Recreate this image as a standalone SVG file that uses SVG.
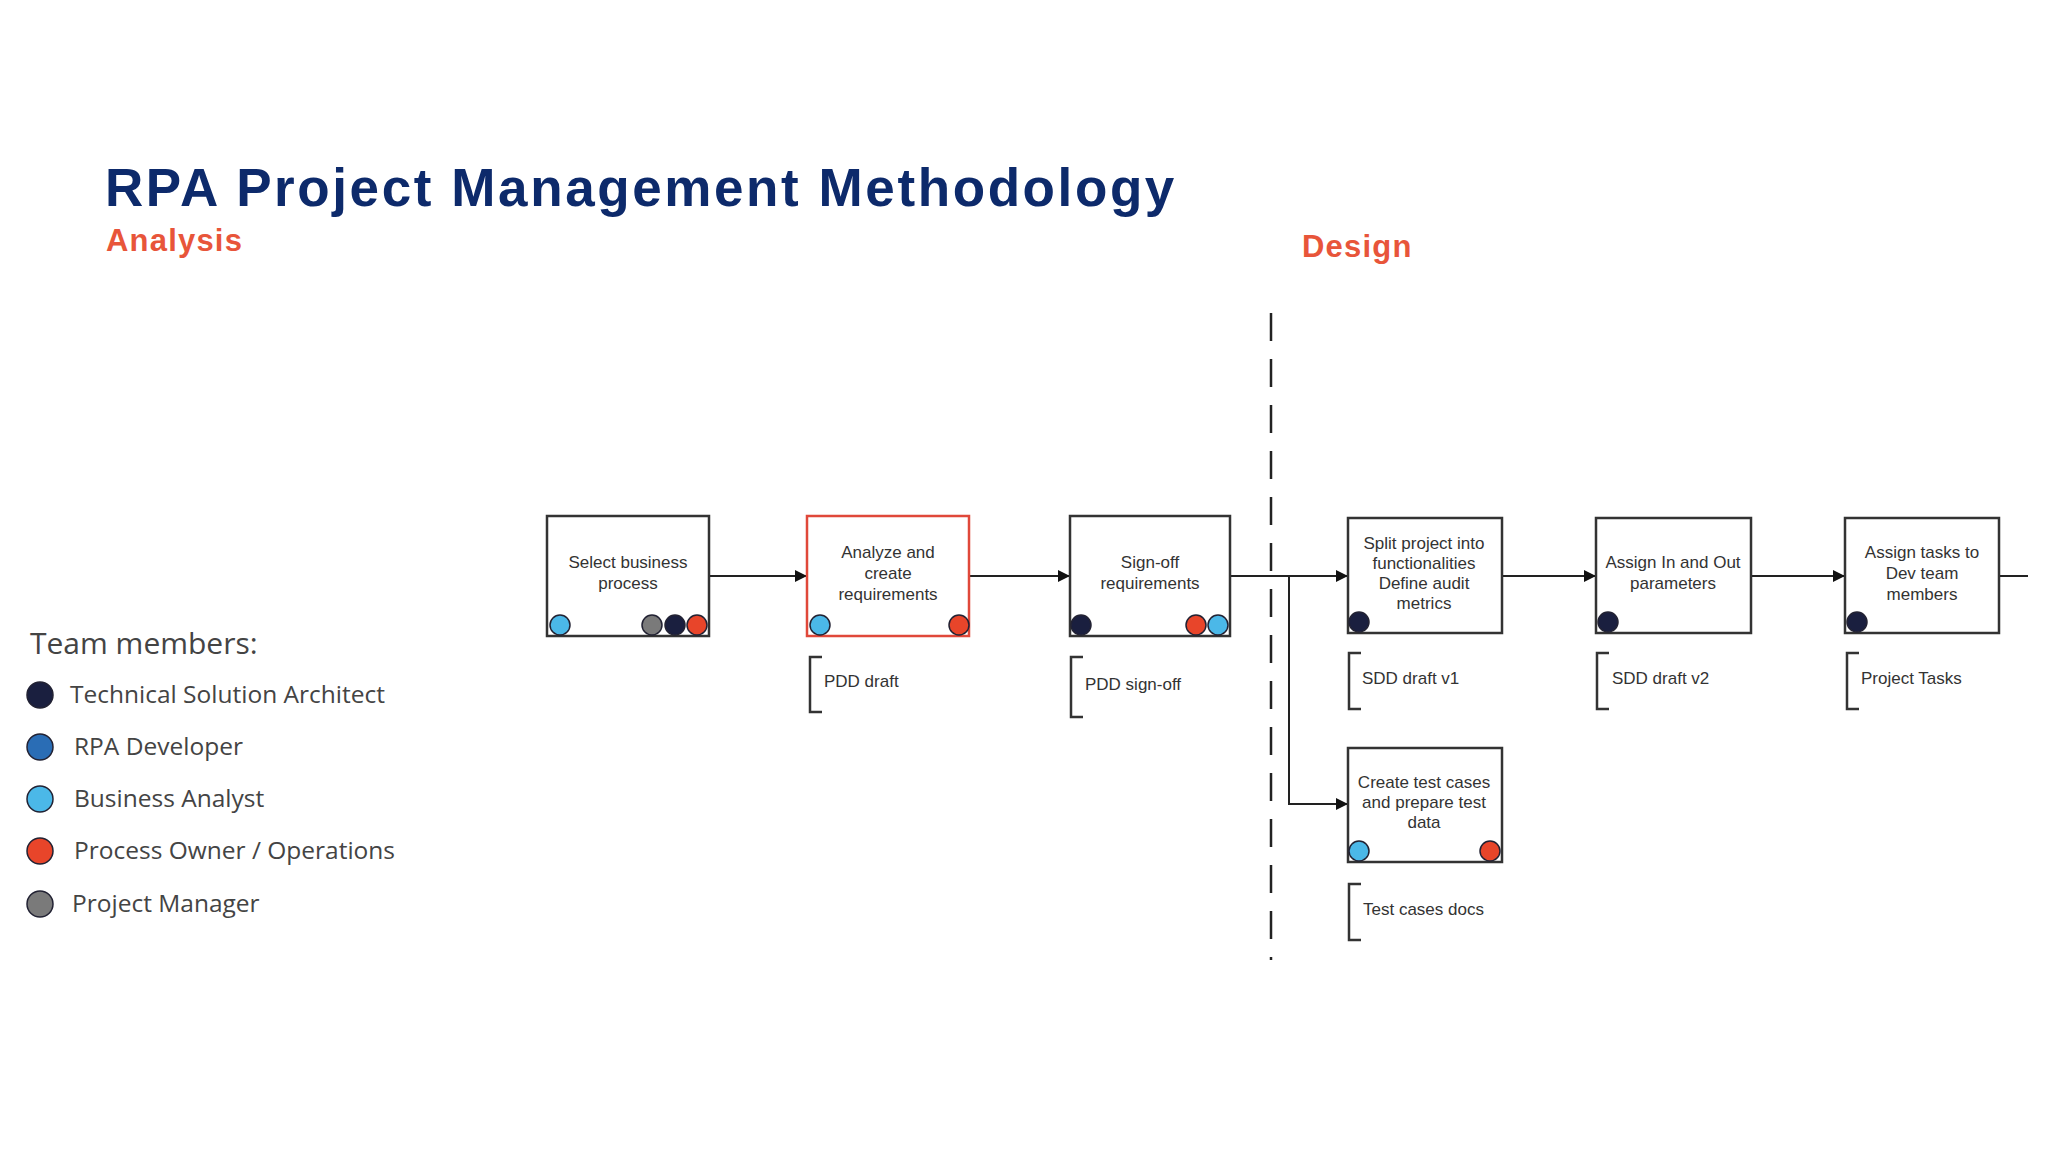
<svg xmlns="http://www.w3.org/2000/svg" width="2048" height="1152" viewBox="0 0 2048 1152">
<defs>
<marker id="ah" viewBox="0 0 10 10" refX="10" refY="5" markerWidth="14" markerHeight="12" markerUnits="userSpaceOnUse" orient="auto"><path d="M0,0 L10,5 L0,10 z" fill="#111"/></marker>
<style>
.box{fill:#fff;stroke:#333;stroke-width:2.5}
.red{stroke:#e0483a}
.bt{font-family:"Liberation Sans",Arial,sans-serif;font-size:17px;fill:#333;text-anchor:middle}
.dt{font-family:"Liberation Sans",Arial,sans-serif;font-size:17px;fill:#333}
.br{fill:none;stroke:#333;stroke-width:2.5}
.ln{stroke:#222;stroke-width:2;fill:none}
.lg{font-family:"Open Sans",sans-serif;font-size:24.5px;fill:#444}
.c{stroke:#223;stroke-width:1.5}
.nv{fill:#1a1f3f}.bl{fill:#2a6db5}.lb{fill:#4bb8e8}.or{fill:#e8452a}.gr{fill:#7a7a7a}
</style>
</defs>
<rect width="2048" height="1152" fill="#fff"/>
<text x="105" y="206" font-family="Liberation Sans,Arial,sans-serif" font-weight="bold" font-size="53" letter-spacing="2.6" fill="#0d2a6b">RPA Project Management Methodology</text>
<text x="106" y="251" font-family="Liberation Sans,Arial,sans-serif" font-weight="bold" font-size="31" letter-spacing="1.2" fill="#e8553a">Analysis</text>
<text x="1302" y="257" font-family="Liberation Sans,Arial,sans-serif" font-weight="bold" font-size="31" letter-spacing="1.2" fill="#e8553a">Design</text>
<line x1="1271" y1="313" x2="1271" y2="960" stroke="#222" stroke-width="2.5" stroke-dasharray="28,18"/>
<g id="connectors">
<line class="ln" x1="709" y1="576" x2="807" y2="576" marker-end="url(#ah)"/>
<line class="ln" x1="969" y1="576" x2="1070" y2="576" marker-end="url(#ah)"/>
<line class="ln" x1="1230" y1="576" x2="1348" y2="576" marker-end="url(#ah)"/>
<polyline class="ln" points="1289,576 1289,804 1348,804" marker-end="url(#ah)"/>
<line class="ln" x1="1502" y1="576" x2="1596" y2="576" marker-end="url(#ah)"/>
<line class="ln" x1="1751" y1="576" x2="1845" y2="576" marker-end="url(#ah)"/>
<line class="ln" x1="1999" y1="576" x2="2028" y2="576"/>
</g>
<g id="n1"><rect class="box" x="547" y="516" width="162" height="120"/>
<text class="bt" x="628" y="568">Select business</text><text class="bt" x="628" y="589">process</text>
<circle class="c lb" cx="560" cy="625" r="10"/><circle class="c gr" cx="652" cy="625" r="10"/><circle class="c nv" cx="675" cy="625" r="10"/><circle class="c or" cx="697" cy="625" r="10"/></g>
<g id="n2"><rect class="box red" x="807" y="516" width="162" height="120"/>
<text class="bt" x="888" y="558">Analyze and</text><text class="bt" x="888" y="579">create</text><text class="bt" x="888" y="600">requirements</text>
<circle class="c lb" cx="820" cy="625" r="10"/><circle class="c or" cx="959" cy="625" r="10"/>
<path class="br" d="M822,657 H810 V712 H822"/><text class="dt" x="824" y="687">PDD draft</text></g>
<g id="n3"><rect class="box" x="1070" y="516" width="160" height="120"/>
<text class="bt" x="1150" y="568">Sign-off</text><text class="bt" x="1150" y="589">requirements</text>
<circle class="c nv" cx="1081" cy="625" r="10"/><circle class="c or" cx="1196" cy="625" r="10"/><circle class="c lb" cx="1218" cy="625" r="10"/>
<path class="br" d="M1083,657 H1071 V717 H1083"/><text class="dt" x="1085" y="690">PDD sign-off</text></g>
<g id="n4"><rect class="box" x="1348" y="518" width="154" height="115"/>
<text class="bt" x="1424" y="549">Split project into</text><text class="bt" x="1424" y="569">functionalities</text><text class="bt" x="1424" y="589">Define audit</text><text class="bt" x="1424" y="609">metrics</text>
<circle class="c nv" cx="1359" cy="622" r="10"/>
<path class="br" d="M1361,653 H1349 V709 H1361"/><text class="dt" x="1362" y="684">SDD draft v1</text></g>
<g id="n5"><rect class="box" x="1596" y="518" width="155" height="115"/>
<text class="bt" x="1673" y="568">Assign In and Out</text><text class="bt" x="1673" y="589">parameters</text>
<circle class="c nv" cx="1608" cy="622" r="10"/>
<path class="br" d="M1609,653 H1597 V709 H1609"/><text class="dt" x="1612" y="684">SDD draft v2</text></g>
<g id="n6"><rect class="box" x="1845" y="518" width="154" height="115"/>
<text class="bt" x="1922" y="558">Assign tasks to</text><text class="bt" x="1922" y="579">Dev team</text><text class="bt" x="1922" y="600">members</text>
<circle class="c nv" cx="1857" cy="622" r="10"/>
<path class="br" d="M1859,653 H1847 V709 H1859"/><text class="dt" x="1861" y="684">Project Tasks</text></g>
<g id="n7"><rect class="box" x="1348" y="748" width="154" height="114"/>
<text class="bt" x="1424" y="788">Create test cases</text><text class="bt" x="1424" y="808">and prepare test</text><text class="bt" x="1424" y="828">data</text>
<circle class="c lb" cx="1359" cy="851" r="10"/><circle class="c or" cx="1490" cy="851" r="10"/>
<path class="br" d="M1361,884 H1349 V940 H1361"/><text class="dt" x="1363" y="915">Test cases docs</text></g>
<g id="legend">
<text x="30" y="654" font-family="Open Sans,sans-serif" font-size="30" fill="#444">Team members:</text>
<circle class="c nv" cx="40" cy="695" r="13"/><text class="lg" x="70" y="703">Technical Solution Architect</text>
<circle class="c bl" cx="40" cy="747" r="13"/><text class="lg" x="74" y="755">RPA Developer</text>
<circle class="c lb" cx="40" cy="799" r="13"/><text class="lg" x="74" y="807">Business Analyst</text>
<circle class="c or" cx="40" cy="851" r="13"/><text class="lg" x="74" y="859">Process Owner / Operations</text>
<circle class="c gr" cx="40" cy="904" r="13"/><text class="lg" x="72" y="912">Project Manager</text>
</g>
</svg>
